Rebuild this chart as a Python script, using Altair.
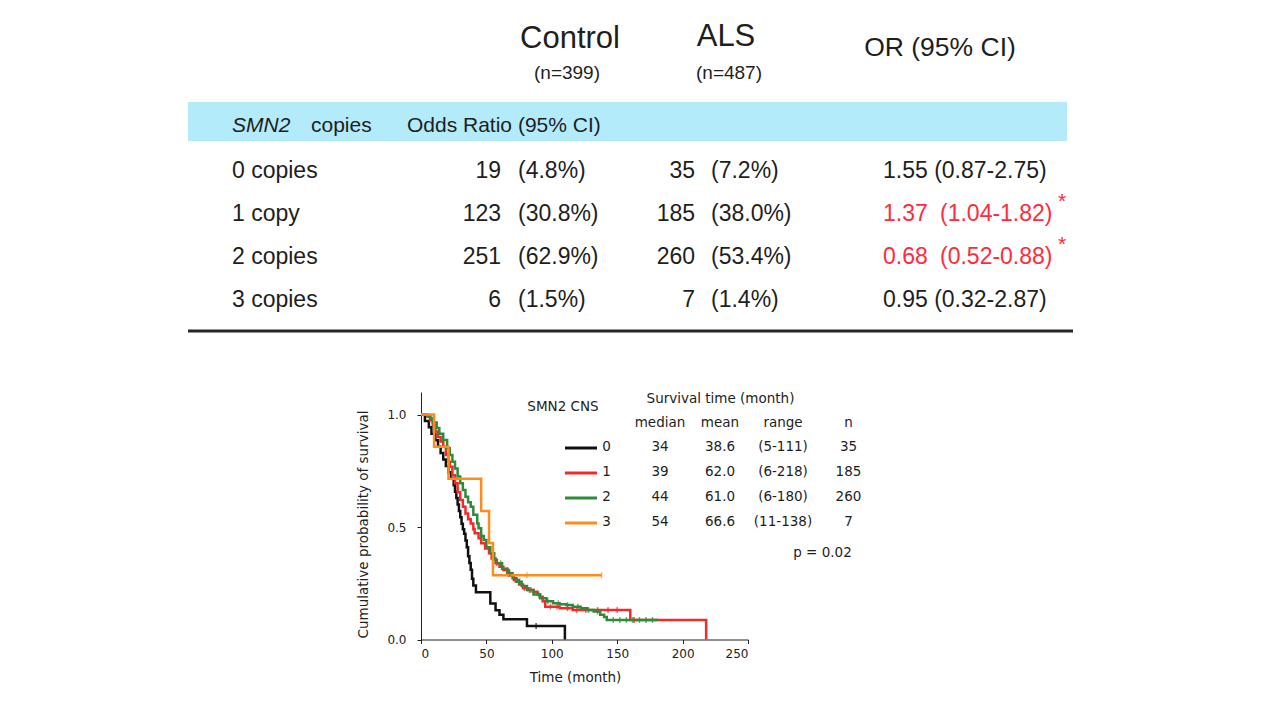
import altair as alt
import pandas as pd

W, H = 1261, 709

# ---------------- table values ----------------
copy_labels = ["0 copies", "1 copy", "2 copies", "3 copies"]
control_n = [19, 123, 251, 6]
control_pct = ["(4.8%)", "(30.8%)", "(62.9%)", "(1.5%)"]
als_n = [35, 185, 260, 7]
als_pct = ["(7.2%)", "(38.0%)", "(53.4%)", "(1.4%)"]
or_est = ["1.55", "1.37", "0.68", "0.95"]
or_ci = ["(0.87-2.75)", "(1.04-1.82)", "(0.52-0.88)", "(0.32-2.87)"]
or_signif = [False, True, True, False]
n_control, n_als = 399, 487

# ---------------- Kaplan-Meier curves (time in months, survival) ----------------
km_groups = ["0", "1", "2", "3"]
km_colors = ["#111111", "#f42a2a", "#2f8a3a", "#ff8c1a"]

black_t = [0, 3, 6, 8, 11, 13, 15, 17, 19, 21, 23, 25, 26, 27, 28, 29, 30, 31, 32, 33,
           34, 35, 36, 37, 38, 39, 40, 42, 53, 57, 60, 63, 81, 110]
black_s = [1.0, 0.971, 0.943, 0.914, 0.886, 0.857, 0.829, 0.80, 0.771, 0.743, 0.714, 0.686,
           0.657, 0.629, 0.60, 0.571, 0.543, 0.514, 0.49, 0.47, 0.44, 0.41, 0.37, 0.34, 0.31,
           0.27, 0.24, 0.21, 0.16, 0.13, 0.11, 0.09, 0.06, 0.0]

red_t = [0, 5, 7, 9, 11, 13, 15, 17, 19, 21, 22, 24, 26, 28, 30, 32, 34, 36, 38, 40, 41,
         44, 46, 49, 52, 54, 57, 60, 63, 67, 71, 75, 78, 82, 86, 89, 91, 93, 95, 106, 116,
         160, 218]
red_s = [1.0, 0.99, 0.975, 0.953, 0.925, 0.90, 0.88, 0.857, 0.82, 0.79, 0.768, 0.73, 0.694,
         0.655, 0.62, 0.59, 0.56, 0.535, 0.516, 0.49, 0.472, 0.45, 0.428, 0.405, 0.383, 0.36,
         0.339, 0.323, 0.309, 0.285, 0.264, 0.245, 0.228, 0.22, 0.212, 0.20, 0.19, 0.17, 0.146,
         0.139, 0.131, 0.087, 0.0]

green_t = [0, 5, 7, 9, 12, 14, 17, 20, 22, 24, 26, 28, 30, 32, 34, 36, 38, 40, 43, 44, 46,
           48, 50, 53, 56, 58, 62, 66, 70, 73, 77, 81, 86, 91, 96, 101, 106, 111, 116, 122,
           127, 132, 137, 140, 142, 181]
green_s = [1.0, 0.996, 0.985, 0.965, 0.94, 0.915, 0.887, 0.85, 0.82, 0.79, 0.76, 0.725, 0.694,
           0.665, 0.635, 0.61, 0.59, 0.555, 0.516, 0.495, 0.46, 0.442, 0.41, 0.383, 0.355,
           0.339, 0.315, 0.294, 0.272, 0.257, 0.238, 0.22, 0.20, 0.183, 0.17, 0.161, 0.157,
           0.153, 0.146, 0.139, 0.131, 0.124, 0.11, 0.10, 0.087, 0.087]

orange_t = [0, 10, 21, 46, 52, 55, 138]
orange_s = [1.0, 0.857, 0.714, 0.571, 0.429, 0.286, 0.286]

# censored observations (months)
black_c = [88]
red_c = [58, 66, 72, 79, 84, 99, 104, 112, 119, 126, 135, 143, 150, 163]
green_c = [61, 68, 75, 83, 90, 97, 105, 112, 120, 128, 135, 147, 152, 157, 162, 167, 172, 177]
orange_c = [81, 138]

# survival summary shown beside the curves
stat_median = ["34", "39", "44", "54"]
stat_mean = ["38.6", "62.0", "61.0", "66.6"]
stat_range = ["(5-111)", "(6-218)", "(6-180)", "(11-138)"]
stat_n = ["35", "185", "260", "7"]
p_value = "p = 0.02"

# ---------------- layout (pixels on the page) ----------------
TABLE_FONT = "Liberation Sans"
KM_FONT = "DejaVu Sans"
INK = "#1e1e1e"
RED = "#ff2b3a"
BAND = "#b3ebfa"
BODY = 23
ROW_Y = [171, 214, 257, 300]
COL = {"label": 232, "ctl_n": 501, "ctl_p": 518, "als_n": 695, "als_p": 711,
       "or": 883, "or_ci": 940, "star": 1062}
KM_X = [421, 748]
KM_Y = [639.5, 392]
LEG_ROW_Y = [447, 472, 497, 522]
LEG_COL = {"line0": 565, "line1": 597, "grp": 606.5, "median": 660, "mean": 720,
           "range": 783, "n": 848.5}

ix = alt.X("px:Q", scale=alt.Scale(domain=[0, W], range=[0, W], nice=False, zero=False), axis=None)
iy = alt.Y("py:Q", scale=alt.Scale(domain=[0, H], range=[0, H], nice=False, zero=False), axis=None)


def text_layer(rows, align="left", font=TABLE_FONT, style="normal", baseline="middle"):
    df = pd.DataFrame(rows, columns=["px", "py", "text", "fs", "col"])
    return alt.Chart(df).mark_text(align=align, baseline=baseline, font=font,
                                   fontStyle=style).encode(
        x=ix, y=iy, text="text:N",
        size=alt.Size("fs:Q", scale=None),
        color=alt.Color("col:N", scale=None),
    )


layers = []

# header band and closing rule of the table
band = pd.DataFrame({"px": [188], "px2": [1067], "py": [102], "py2": [141]})
layers.append(alt.Chart(band).mark_rect(color=BAND).encode(
    x=ix, x2="px2:Q", y=iy, y2="py2:Q"))
bottom = pd.DataFrame({"px": [188], "px2": [1073], "py": [331]})
layers.append(alt.Chart(bottom).mark_rule(color="#262626", strokeWidth=3).encode(
    x=ix, x2="px2:Q", y=iy))

# column headings
layers.append(text_layer([
    (570, 39, "Control", 31, INK),
    (726, 37, "ALS", 31, INK),
    (567, 73, f"(n={n_control})", 19, INK),
    (729, 73, f"(n={n_als})", 19, INK),
    (940, 48, "OR (95% CI)", 26.5, INK),
], align="center"))

# band captions
layers.append(text_layer([(232, 126, "SMN2", 21, INK)], style="italic"))
layers.append(text_layer([(311, 126, "copies", 21, INK),
                          (407, 126, "Odds Ratio (95% CI)", 21, INK)]))

# body rows
left_rows, right_rows, star_rows = [], [], []
for i, y in enumerate(ROW_Y):
    c = RED if or_signif[i] else INK
    left_rows.append((COL["label"], y, copy_labels[i], BODY, INK))
    left_rows.append((COL["ctl_p"], y, control_pct[i], BODY, INK))
    left_rows.append((COL["als_p"], y, als_pct[i], BODY, INK))
    right_rows.append((COL["ctl_n"], y, str(control_n[i]), BODY, INK))
    right_rows.append((COL["als_n"], y, str(als_n[i]), BODY, INK))
    if or_signif[i]:
        left_rows.append((COL["or"], y, or_est[i], BODY, c))
        left_rows.append((COL["or_ci"], y, or_ci[i], BODY, c))
        star_rows.append((COL["star"], y - 12, "*", 21, c))
    else:
        left_rows.append((COL["or"], y, f"{or_est[i]} {or_ci[i]}", BODY, c))
layers.append(text_layer(left_rows))
layers.append(text_layer(right_rows, align="right"))
layers.append(text_layer(star_rows, align="center"))

# ---------------- Kaplan-Meier plot ----------------
xs = alt.Scale(domain=[0, 250], range=KM_X, nice=False, zero=False)
ys = alt.Scale(domain=[0, 1.1], range=KM_Y, nice=False, zero=False)
cs = alt.Scale(domain=km_groups, range=km_colors)

series = [(black_t, black_s, black_c), (red_t, red_s, red_c),
          (green_t, green_s, green_c), (orange_t, orange_s, orange_c)]
curve_rows, cens_rows = [], []
for g, (ts, ss, cens) in zip(km_groups, series):
    for t, s in zip(ts, ss):
        curve_rows.append({"grp": g, "t": t, "s": s})
    for c in cens:
        # the mark sits on the curve at the censoring time
        s_at = [s for t, s in zip(ts, ss) if t <= c][-1]
        cens_rows.append({"grp": g, "t": c, "s": s_at})
curves = pd.DataFrame(curve_rows)
cens_df = pd.DataFrame(cens_rows)

x_axis = alt.Axis(orient="bottom", values=[0, 50, 100, 150, 200, 250], format="d",
                  offset=KM_Y[0] - H, grid=False, domainColor="#222", tickColor="#222",
                  tickSize=4, labelPadding=5, labelFont=KM_FONT, labelFontSize=12,
                  labelColor="#222", title="Time (month)", titleFont=KM_FONT,
                  titleFontSize=13.5, titleFontWeight="normal", titleColor="#222",
                  titleX=575, titleY=677 - KM_Y[0], titleBaseline="middle",
                  titleAlign="center")
y_axis = alt.Axis(orient="left", values=[0, 0.5, 1.0], format=".1f", offset=-KM_X[0],
                  grid=False, domainColor="#222", tickColor="#222", tickSize=4,
                  labelPadding=11, labelFont=KM_FONT, labelFontSize=12, labelColor="#222",
                  title="Cumulative probability of survival", titleFont=KM_FONT,
                  titleFontSize=13.5, titleFontWeight="normal", titleColor="#222",
                  titleX=363 - KM_X[0], titleY=524, titleAngle=270,
                  titleBaseline="middle", titleAlign="center")

layers.append(alt.Chart(curves).mark_line(interpolate="step-after", strokeWidth=2.5).encode(
    x=alt.X("t:Q", scale=xs, axis=x_axis),
    y=alt.Y("s:Q", scale=ys, axis=y_axis),
    color=alt.Color("grp:N", scale=cs, legend=None),
))
layers.append(alt.Chart(cens_df).mark_tick(orient="vertical", size=6, thickness=1.5).encode(
    x=alt.X("t:Q", scale=xs, axis=None),
    y=alt.Y("s:Q", scale=ys, axis=None),
    color=alt.Color("grp:N", scale=cs, legend=None),
))

# legend key and survival summary
leg_lines = pd.DataFrame({"px": [LEG_COL["line0"]] * 4, "px2": [LEG_COL["line1"]] * 4,
                          "py": [y + 1 for y in LEG_ROW_Y], "col": km_colors})
layers.append(alt.Chart(leg_lines).mark_rule(strokeWidth=3).encode(
    x=ix, x2="px2:Q", y=iy, color=alt.Color("col:N", scale=None)))

km_text = [
    (563, 407, "SMN2 CNS", 13.5, INK),
    (720.5, 399, "Survival time (month)", 13.5, INK),
    (LEG_COL["median"], 423, "median", 13.5, INK),
    (LEG_COL["mean"], 423, "mean", 13.5, INK),
    (LEG_COL["range"], 423, "range", 13.5, INK),
    (LEG_COL["n"], 423, "n", 13.5, INK),
    (822.5, 553, p_value, 13.5, INK),
]
for i, y in enumerate(LEG_ROW_Y):
    km_text += [
        (LEG_COL["grp"], y, km_groups[i], 13.5, INK),
        (LEG_COL["median"], y, stat_median[i], 13.5, INK),
        (LEG_COL["mean"], y, stat_mean[i], 13.5, INK),
        (LEG_COL["range"], y, stat_range[i], 13.5, INK),
        (LEG_COL["n"], y, stat_n[i], 13.5, INK),
    ]
layers.append(text_layer(km_text, align="center", font=KM_FONT))

chart = alt.layer(*layers).resolve_scale(
    x="independent", y="independent", color="independent", size="independent"
).properties(
    width=W, height=H, padding=0, autosize=alt.AutoSizeParams(type="none"),
    background="white",
).configure_view(stroke=None)

chart.save("out.html", embed_options={"renderer": "svg", "actions": False})
